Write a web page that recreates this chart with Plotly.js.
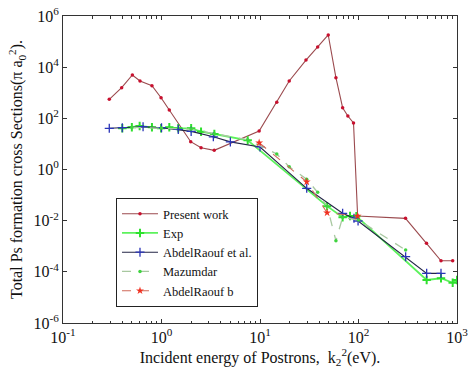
<!DOCTYPE html>
<html>
<head>
<meta charset="utf-8">
<script src="https://cdn.plot.ly/plotly-3.0.1.min.js"></script>
<style>html,body{margin:0;padding:0;background:#fff;}#chart{width:474px;height:375px;}</style>
</head>
<body>
<div id="chart"></div>
<script>
// ---- data ----
const presentX = [0.295,0.394,0.506,0.605,0.80,0.99,1.2,1.98,2.52,3.43,9.8,14.8,19.8,29.3,38.5,49.3,59,69,78,89,98,300,490,688,904];
const presentY = [553,1575,4940,2880,1880,640,211,12.2,7.1,5.6,32,423,2880,19000,61400,181000,3870,260,123,66,0.0152,0.0123,0.0013,0.00027,0.00027];

const expX = [0.40,0.50,0.60,0.80,0.99,1.2,1.48,2.0,2.52,3.44,7.5,48,69,82,95,492,688,904,1000];
const expY = [40.7,44.6,50,44.6,40.7,44.6,40.7,40.7,30,24.4,13.8,0.037,0.0135,0.0152,0.015,4.8e-5,5.6e-5,3.75e-5,4.8e-5];

const abdelX = [0.295,0.4,0.65,1.0,1.48,2.0,3.36,5.0,10,29.8,69,90,99,301,492,688];
const abdelY = [40.7,43,47,43,37,31,19,12,7.6,0.184,0.0194,0.0125,0.0097,3.9e-4,8.7e-5,8.7e-5];

const mazX = [0.5,1.0,2.0,3.44,7.5,14.8,19.8,29.8,38.5,48,59,69,100,301];
const mazY = [44,42,38,25,14.5,4.03,1.29,0.42,0.128,0.037,0.00164,0.0135,0.0106,7.1e-4];

const abdelBX = [9.8,29.8,48,98];
const abdelBY = [11.1,0.33,0.0204,0.0152];

const seriesNames = ['Present work','Exp','AbdelRaouf et al.','Mazumdar','AbdelRaouf b'];

const xTickVals = [0.1,1,10,100,1000];
const xTickText = ['10<sup>-1</sup>','10<sup>0</sup>','10<sup>1</sup>','10<sup>2</sup>','10<sup>3</sup>'];
const xMinorVals = [];
[0.1,1,10,100].forEach(d=>{for(let k=2;k<=9;k++) xMinorVals.push(d*k);});
const yTickVals = [1e-6,1e-4,1e-2,1,1e2,1e4,1e6];
const yTickText = ['10<sup>-6</sup>','10<sup>-4</sup>','10<sup>-2</sup>','10<sup>0</sup>','10<sup>2</sup>','10<sup>4</sup>','10<sup>6</sup>'];

const serif = 'Liberation Serif, serif';

const traces = [
  {x:presentX, y:presentY, name:seriesNames[0], mode:'lines+markers',
   line:{color:'#9b4a4e', width:1.1},
   marker:{symbol:'circle', size:3.5, color:'#c8102e'}},
  {x:expX, y:expY, name:seriesNames[1], mode:'lines+markers',
   line:{color:'#5cf25c', width:1.8},
   marker:{symbol:'cross-thin', size:6, line:{color:'#2ee02e', width:2}}},
  {x:abdelX, y:abdelY, name:seriesNames[2], mode:'lines+markers',
   line:{color:'#232546', width:1.1},
   marker:{symbol:'cross-thin', size:6.5, line:{color:'#2a34b8', width:1.3}}},
  {x:mazX, y:mazY, name:seriesNames[3], mode:'lines+markers',
   line:{color:'#a8c8a0', width:1.3, dash:'dash'},
   marker:{symbol:'circle', size:3.5, color:'#3fd33f'}},
  {x:abdelBX, y:abdelBY, name:seriesNames[4], mode:'lines+markers',
   line:{color:'#d06a5a', width:1.1, dash:'dash'},
   marker:{symbol:'star', size:6, color:'#f03020'}}
];

const layout = {
  width:474, height:375,
  margin:{l:63, r:17, t:16, b:52},
  paper_bgcolor:'#fff', plot_bgcolor:'#fff',
  font:{family:serif, size:16, color:'#111'},
  showlegend:true,
  legend:{x:0.1345, y:0.407, xanchor:'left', yanchor:'top',
          bgcolor:'#fff', bordercolor:'#222', borderwidth:1,
          font:{family:serif, size:12.5, color:'#111'}, tracegroupgap:0,
          itemwidth:36},
  xaxis:{type:'log', range:[-1,3], tickmode:'array', tickvals:xTickVals, ticktext:xTickText,
         ticks:'inside', ticklen:4, tickcolor:'#333', showline:true, linecolor:'#333', linewidth:1,
         mirror:'ticks', showgrid:false, zeroline:false,
         tickfont:{family:serif, size:16, color:'#111'},
         minor:{tickmode:'array', tickvals:xMinorVals, ticks:'inside', ticklen:2.5, tickcolor:'#333', showgrid:false},
         title:{text:'Incident energy of Postrons,  k<sub>2</sub><sup>2</sup>(eV).', font:{family:serif, size:16, color:'#111'}, standoff:4}},
  yaxis:{type:'log', range:[-6,6], tickmode:'array', tickvals:yTickVals, ticktext:yTickText,
         ticks:'inside', ticklen:4, tickcolor:'#333', showline:true, linecolor:'#333', linewidth:1,
         mirror:'ticks', showgrid:false, zeroline:false,
         tickfont:{family:serif, size:16, color:'#111'},
         title:{text:'Total Ps formation cross Sections(π a<sub>0</sub><sup>2</sup>).', font:{family:serif, size:16, color:'#111'}, standoff:6}}
};

Plotly.newPlot('chart', traces, layout, {displayModeBar:false, staticPlot:true});
</script>
</body>
</html>
